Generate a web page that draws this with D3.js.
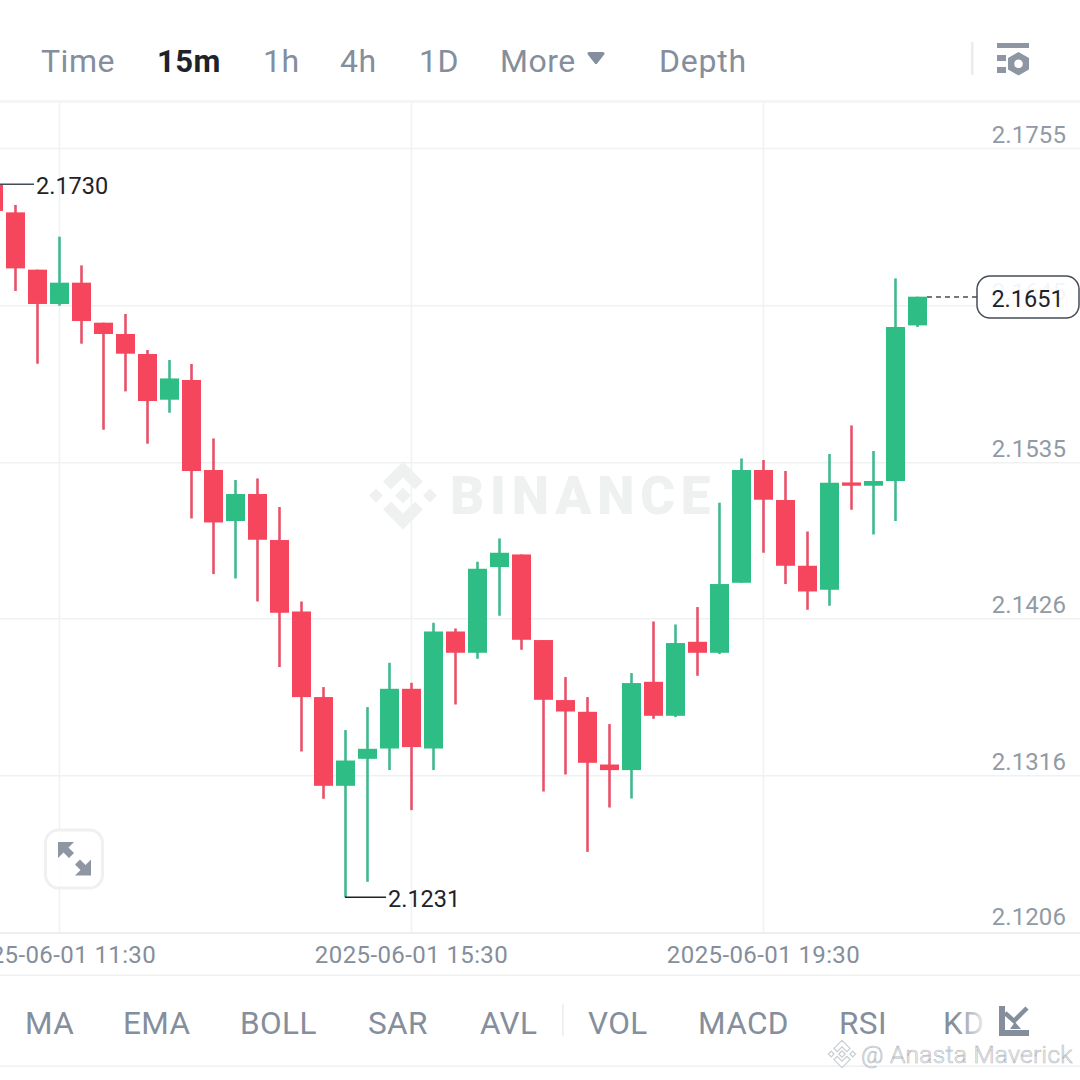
<!DOCTYPE html>
<html><head><meta charset="utf-8">
<script src="https://cdn.jsdelivr.net/npm/d3@7"></script>
<style>html,body{margin:0;padding:0;background:#fff;overflow:hidden}svg{display:block}text{font-family:Roboto,sans-serif}</style>
</head><body><svg id="c" width="1080" height="1080"></svg>
<script>
// ---- data ----
const opens  = [2.17298,2.17103,2.16702,2.16462,2.16611,2.16331,2.16252,2.16112,2.15792,2.15930,2.15300,2.14943,2.15132,2.14810,2.14310,2.13711,2.13090,2.13279,2.13351,2.13769,2.13351,2.14170,2.14021,2.14621,2.14709,2.14110,2.13690,2.13608,2.13239,2.13200,2.13818,2.13580,2.14098,2.14021,2.14511,2.15300,2.15090,2.14630,2.14462,2.15213,2.15190,2.15223,2.16312];
const closes = [2.17113,2.16711,2.16462,2.16611,2.16343,2.16252,2.16114,2.15783,2.15941,2.15293,2.14933,2.15132,2.14812,2.14301,2.13711,2.13090,2.13267,2.13349,2.13769,2.13361,2.14170,2.14021,2.14609,2.14721,2.14112,2.13692,2.13610,2.13251,2.13200,2.13809,2.13580,2.14089,2.14021,2.14502,2.15300,2.15092,2.14630,2.14450,2.15211,2.15190,2.15223,2.16301,2.16513];
const highs  = [2.17300,2.17155,2.16702,2.16933,2.16732,2.16331,2.16392,2.16140,2.16070,2.16042,2.15521,2.15230,2.15241,2.15041,2.14380,2.13781,2.13480,2.13641,2.13951,2.13811,2.14231,2.14191,2.14658,2.14821,2.14709,2.14110,2.13851,2.13711,2.13522,2.13879,2.14240,2.14219,2.14341,2.15071,2.15381,2.15370,2.15293,2.14870,2.15412,2.15612,2.15433,2.16641,2.16513];
const lows   = [2.17113,2.16553,2.16044,2.16450,2.16184,2.15582,2.15850,2.15484,2.15701,2.14961,2.14572,2.14541,2.14380,2.13921,2.13330,2.12999,2.12310,2.12418,2.13200,2.12920,2.13200,2.13659,2.13979,2.14280,2.14042,2.13050,2.13169,2.12628,2.12938,2.13001,2.13559,2.13571,2.13860,2.14012,2.14511,2.14721,2.14502,2.14322,2.14350,2.15022,2.14849,2.14943,2.16301];
const firstCandle = Date.UTC(2025,5,1,10,45);
const priceTicks = [2.1755,2.1645,2.1535,2.1426,2.1316,2.1206];
const timeTicks = [Date.UTC(2025,5,1,11,30),Date.UTC(2025,5,1,15,30),Date.UTC(2025,5,1,19,30)];
const highLabel = 2.1730, lowLabel = 2.1231, lastPrice = 2.1651;
const intervalTabs = ["Time","15m","1h","4h","1D","More","Depth"];
const indicatorTabs = ["MA","EMA","BOLL","SAR","AVL","VOL","MACD","RSI","KD"];

// ---- layout ----
const intervalX = [41,157,263,340,419,500,659];
const indicatorX = [25,123,240,368,480,588,698,839,943];
const UP="#2EBD85", DOWN="#F6465D", UPW="#41b88d", DOWNW="#e7526a", GRID="#eff1f3", GREY="#848e9c", DARK="#1e2329";
const LOGO="M0,-34L20,-14L12,-6L0,-18L-12,-6L-20,-14Z M0,34L20,14L12,6L0,18L-12,6L-20,14Z M0,-8L8,0L0,8L-8,0Z M-27,-7L-20,0L-27,7L-34,0Z M27,-7L34,0L27,7L20,0Z";
const svg = d3.select("#c");

const times = d3.range(opens.length).map(i=>new Date(firstCandle+i*9e5));
const x = d3.scaleUtc().domain([timeTicks[0],timeTicks[2]]).range([59.5,763.5]);
const y = d3.scaleLinear().domain([2.1755,2.1206]).range([148.5,933]);
const fmtT = d3.utcFormat("%Y-%m-%d %H:%M");
const fmtP = d3.format(".4f");
const candles = times.map((t,i)=>({t,o:opens[i],c:closes[i],h:highs[i],l:lows[i]}));

// watermark
const wm = svg.append("g").attr("fill","#eff1f1");
wm.append("path").attr("transform","translate(403,495.5)").attr("d",LOGO);
wm.append("text").attr("x",450).attr("y",514).attr("font-size",53).attr("font-weight",900).attr("letter-spacing",5.8).text("BINANCE");

// grid + axes
const gY = svg.append("g").call(d3.axisRight(y).offset(0).tickValues(priceTicks).tickFormat(fmtP).tickSize(1080));
gY.select(".domain").remove();
gY.selectAll("line").attr("stroke",GRID).attr("stroke-width",1.5);
gY.selectAll("text").attr("x",1066).attr("dy",null).attr("y",d=>d===2.1206?-8.5:-6).attr("text-anchor","end")
  .attr("font-size",24).attr("fill","#929aa5").attr("letter-spacing",.1);

const gX = svg.append("g").attr("transform","translate(0,933)")
  .call(d3.axisBottom(x).offset(0).tickValues(timeTicks).tickFormat(d=>fmtT(new Date(d))).tickSize(-830).tickPadding(0));
gX.select(".domain").remove();
gX.selectAll("line").attr("stroke",GRID).attr("stroke-width",1.5);
gX.selectAll("text").attr("y",30).attr("dy",null).attr("font-size",24).attr("fill",GREY).attr("letter-spacing",.4);

// candles
const gc = svg.append("g");
gc.selectAll("line").data(candles).join("line")
  .attr("x1",d=>x(d.t)).attr("x2",d=>x(d.t)).attr("y1",d=>y(d.h)).attr("y2",d=>y(d.l))
  .attr("stroke",d=>d.c>=d.o?UPW:DOWNW).attr("stroke-width",2.6);
gc.selectAll("rect").data(candles).join("rect")
  .attr("x",d=>x(d.t)-9.5).attr("width",19)
  .attr("y",d=>y(Math.max(d.o,d.c))).attr("height",d=>Math.abs(y(d.o)-y(d.c)))
  .attr("fill",d=>d.c>=d.o?UP:DOWN);

// high / low annotations
const ann = svg.append("g");
ann.append("line").attr("x1",0).attr("x2",34).attr("y1",y(highLabel)).attr("y2",y(highLabel)).attr("stroke","#474d57").attr("stroke-width",1.5);
ann.append("text").attr("x",36).attr("y",y(highLabel)+9.5).attr("font-size",23.5).attr("fill",DARK).text(fmtP(highLabel));
ann.append("line").attr("x1",345).attr("x2",386).attr("y1",y(lowLabel)).attr("y2",y(lowLabel)).attr("stroke","#1e2329").attr("stroke-width",1.5);
ann.append("text").attr("x",388).attr("y",y(lowLabel)+9.5).attr("font-size",23.5).attr("fill",DARK).text(fmtP(lowLabel));

// last price
const ly = y(lastPrice);
svg.append("line").attr("x1",x(times[42])+9.5).attr("x2",977).attr("y1",ly).attr("y2",ly).attr("stroke","#474d57").attr("stroke-width",1.5).attr("stroke-dasharray","5 4");
svg.append("rect").attr("x",977).attr("y",ly-21).attr("width",102).attr("height",42).attr("rx",13)
  .attr("fill","#fff").attr("fill-opacity",.9).attr("stroke","#474d57").attr("stroke-width",1.5);
svg.append("text").attr("x",1027.5).attr("y",ly+10).attr("text-anchor","middle").attr("font-size",23.5).attr("fill",DARK).text(fmtP(lastPrice));

// chrome: header
svg.append("rect").attr("x",0).attr("y",100).attr("width",1080).attr("height",3).attr("fill","#f5f5f5");
svg.append("g").selectAll("text").data(intervalTabs).join("text")
  .attr("x",(d,i)=>intervalX[i]).attr("y",72).attr("font-size",d=>d==="15m"?31:32)
  .attr("font-weight",d=>d==="15m"?700:400).attr("fill",d=>d==="15m"?DARK:GREY).attr("letter-spacing",d=>d==="Depth"?.8:.5).text(d=>d);
svg.append("path").attr("d","M589,53.5H603L596,62.5Z").attr("fill",GREY).attr("stroke",GREY).attr("stroke-width",3).attr("stroke-linejoin","round");
svg.append("rect").attr("x",971).attr("y",42).attr("width",2.5).attr("height",33).attr("fill","#eaecef");
const ic = svg.append("g").attr("fill","#8f96a3");
ic.append("rect").attr("x",997).attr("y",43).attr("width",32).attr("height",5);
ic.append("rect").attr("x",997).attr("y",55).attr("width",9).attr("height",6);
ic.append("rect").attr("x",997).attr("y",67).attr("width",9).attr("height",6);
ic.append("path").attr("fill-rule","evenodd").attr("d","M1018.5,52L1029,58V69.5L1018.5,75.5L1008,69.5V58Z M1018.5,59.5a4.3,4.3 0 1,0 0.01,0Z");

// expand button
svg.append("rect").attr("x",45.5).attr("y",830).attr("width",57).attr("height",58).attr("rx",13).attr("fill","#fff").attr("fill-opacity",.85).attr("stroke","#eef0f2").attr("stroke-width",3);
svg.append("path").attr("fill","#8f96a3").attr("d","M58,842H74L68.5,847.5L74,853L69,858L63.5,852.5L58,858Z M91,875.5H75L80.5,870L75,864.5L80,859.5L85.5,865L91,859.5Z");

// lower rules
svg.append("rect").attr("x",0).attr("y",932).attr("width",1080).attr("height",2).attr("fill","#eceef0");
svg.append("rect").attr("x",0).attr("y",974.5).attr("width",1080).attr("height",1.5).attr("fill","#eff0f2");
svg.append("rect").attr("x",0).attr("y",1065.5).attr("width",1080).attr("height",1.5).attr("fill","#eff0f2");

// indicator tabs
svg.append("g").selectAll("text").data(indicatorTabs).join("text")
  .attr("x",(d,i)=>indicatorX[i]).attr("y",1034).attr("font-size",31.5).attr("fill",GREY).attr("letter-spacing",.4).text(d=>d);
svg.append("rect").attr("x",562).attr("y",1004).attr("width",1.5).attr("height",32).attr("fill","#eaecef");
const defs = svg.append("defs").append("linearGradient").attr("id","fade");
defs.append("stop").attr("offset",0).attr("stop-color","#fff").attr("stop-opacity",0);
defs.append("stop").attr("offset",1).attr("stop-color","#fff").attr("stop-opacity",1);
svg.append("rect").attr("x",955).attr("y",1000).attr("width",35).attr("height",42).attr("fill","url(#fade)");
const kline = svg.append("g").attr("fill","#848e9c");
kline.append("path").attr("d","M999,1006H1005V1030H1029V1036H999Z M1010,1029L1015,1022L1021,1029Z");
kline.append("path").attr("fill","none").attr("stroke","#848e9c").attr("stroke-width",4.5).attr("d","M1005,1013L1014,1021L1027,1008");

// author watermark
const am = svg.append("g");
am.append("path").attr("transform","translate(842,1054) scale(.4)").attr("fill","#fff").attr("stroke","#c9ccd0").attr("stroke-width",3).attr("d",LOGO);
am.append("text").attr("x",861).attr("y",1063).attr("font-size",24.5).attr("font-weight",300).attr("fill","#fff").attr("stroke","#b9bdc3").attr("stroke-width",.7).attr("letter-spacing",.3).text("@ Anasta Maverick");
</script></body></html>
